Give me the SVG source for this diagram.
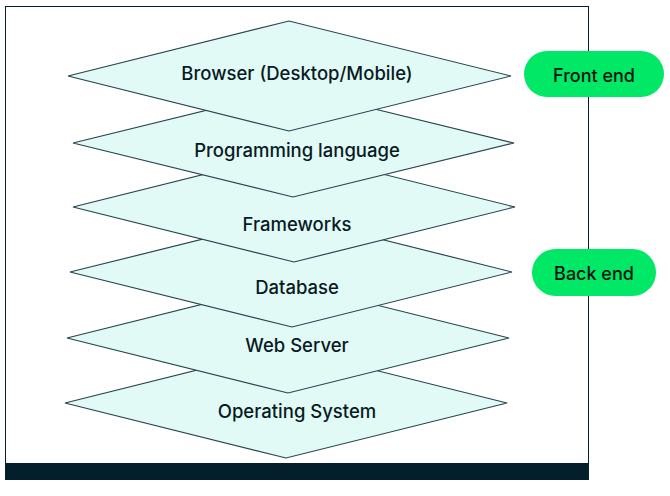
<svg xmlns="http://www.w3.org/2000/svg" width="670" height="496" viewBox="0 0 670 496">
<style>
.layer{fill:#e1faf6;stroke:#2a4550;stroke-width:1.2}
.lbl{font-family:Inter,"Noto Sans",sans-serif;font-size:18.5px;font-weight:500;fill:#0a1a24;text-anchor:middle;dominant-baseline:central}
.pill{fill:#00e866}
.plbl{font-family:Inter,"Noto Sans",sans-serif;font-size:18px;font-weight:500;fill:#06140d;text-anchor:middle;dominant-baseline:central}
</style>
<rect x="0" y="0" width="670" height="496" fill="#ffffff"/>
<g id="frame">
<rect x="5.5" y="6.5" width="583" height="470" fill="#ffffff" stroke="#031f2b" stroke-width="1"/>
<rect x="5" y="463" width="584" height="17" fill="#031f2b"/>
</g>
<g id="layer-os"><polygon class="layer" points="65,403 286,348 507,403 286,458"/><text class="lbl" x="297" y="411">Operating System</text></g>
<g id="layer-webserver"><polygon class="layer" points="67,338 288,283 509,338 288,393"/><text class="lbl" x="297" y="345">Web Server</text></g>
<g id="layer-database"><polygon class="layer" points="70,272 292,217 512,272 292,327"/><text class="lbl" x="297" y="287">Database</text></g>
<g id="layer-frameworks"><polygon class="layer" points="73,207 294,152 515,207 294,262"/><text class="lbl" x="297" y="224">Frameworks</text></g>
<g id="layer-proglang"><polygon class="layer" points="73,143 293,89 514,143 293,197"/><text class="lbl" x="297" y="150">Programming language</text></g>
<g id="layer-browser"><polygon class="layer" points="68,76 289,21 511,76 289,131"/><text class="lbl" x="297" y="73">Browser (Desktop/Mobile)</text></g>
<g id="connectors"></g>
<g id="front-end"><rect class="pill" x="524" y="51" width="140" height="46" rx="23"/><text class="plbl" x="594" y="75">Front end</text></g>
<g id="back-end"><rect class="pill" x="532" y="249" width="124" height="47" rx="23.5"/><text class="plbl" x="594" y="273">Back end</text></g>
</svg>
